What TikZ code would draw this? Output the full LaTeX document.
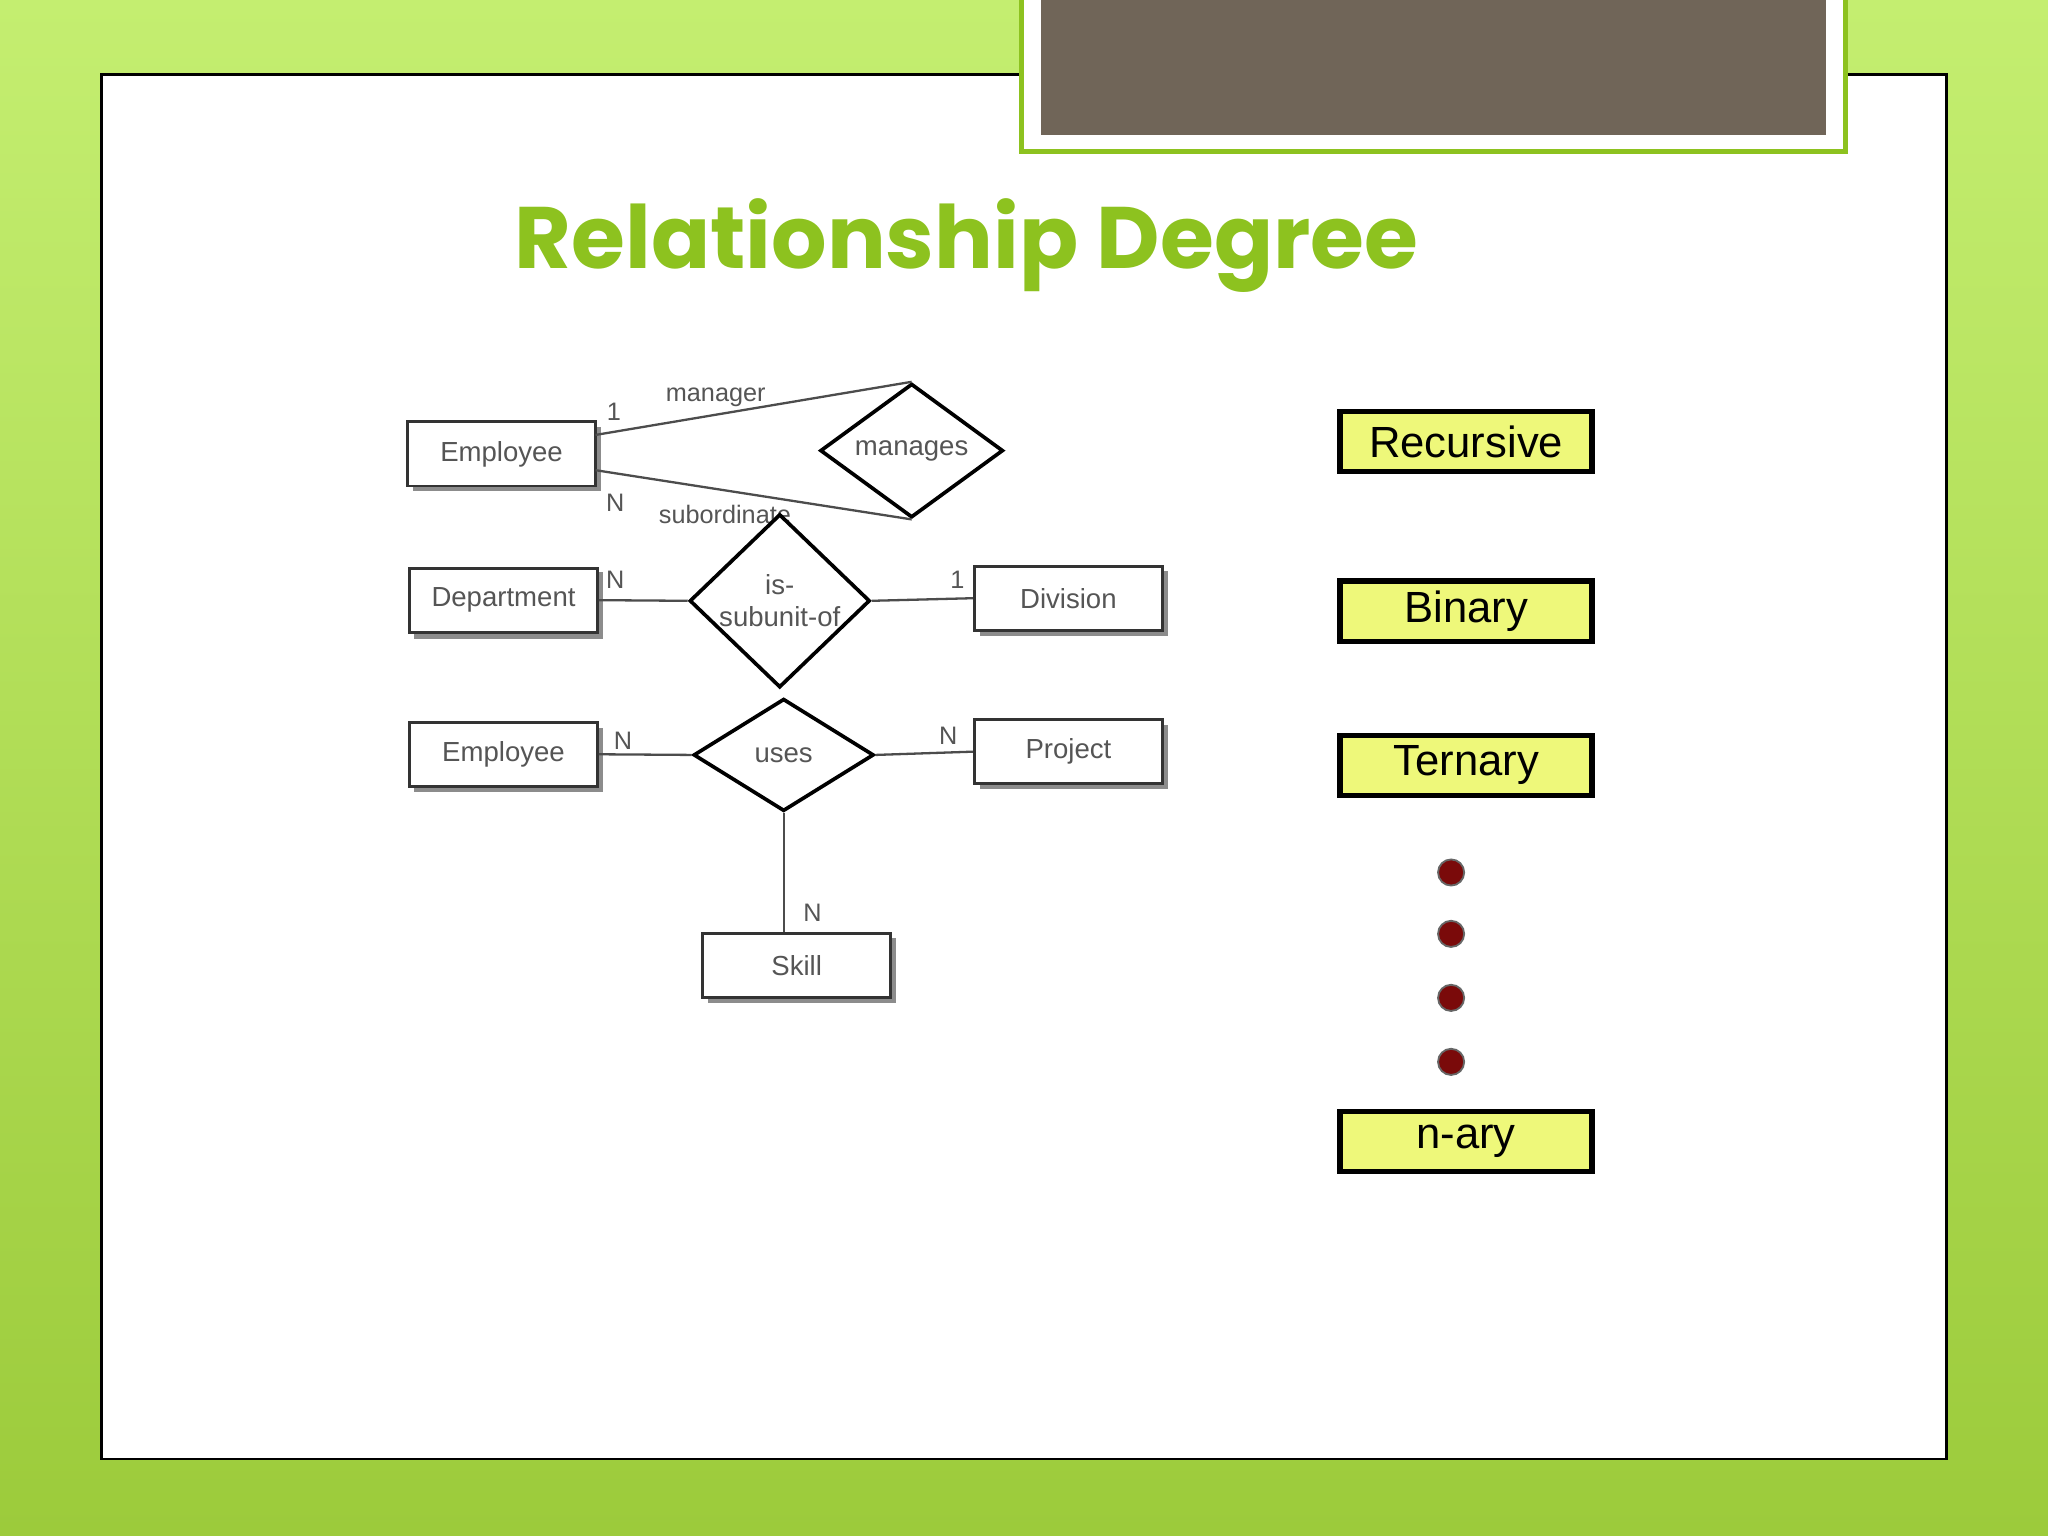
\documentclass[tikz,border=0pt]{standalone}
\usepackage{fontspec}
\setmainfont{Liberation Sans}
\newfontfamily\titlefont{Poppins}
\usetikzlibrary{shapes.geometric}
\definecolor{bggreen}{HTML}{9CCB3B}
\definecolor{bglight}{HTML}{C4EE70}
\definecolor{ttl}{HTML}{8DC21F}
\definecolor{brownbox}{HTML}{706558}
\definecolor{ybox}{HTML}{EEF87A}
\definecolor{dotred}{HTML}{7A0A0A}
\definecolor{txtgray}{HTML}{555555}
\tikzset{
 ent/.style={draw=black!80,fill=white,line width=0.6pt,minimum width=1.44cm,minimum height=0.49cm,inner sep=0pt,font=\fontsize{6}{7}\selectfont,text=txtgray},
 rel/.style={draw=black,fill=white,diamond,line width=0.8pt,inner sep=0pt,font=\fontsize{6}{7}\selectfont,text=txtgray,align=center},
 lbl/.style={font=\fontsize{5.5}{6}\selectfont,text=txtgray,inner sep=0pt},
 ln/.style={draw=black!70,line width=0.5pt},
 yb/.style={draw=black,fill=ybox,line width=1.2pt,minimum width=1.93cm,minimum height=0.46cm,inner sep=0pt,font=\fontsize{9.5}{11}\selectfont},
 rdot/.style={circle,fill=dotred,draw=black!60,inner sep=0pt,minimum size=0.2cm}
}
\begin{document}
\begin{tikzpicture}[x=0.01cm,y=-0.01cm]
\useasboundingbox (0,0) rectangle (1568,1176);
\shade[top color=bglight,bottom color=bggreen] (0,0) rectangle (1568,1176);
\draw[fill=white,line width=0.6pt] (78,57) rectangle (1490,1117);
\draw[fill=white,draw=ttl,line width=1pt] (782,-2) rectangle (1413,116);
\fill[brownbox] (797,-2) rectangle (1398,103);
\node[font=\titlefont\bfseries\fontsize{19}{22}\selectfont,text=ttl] (title) at (740,188) {Relationship Degree};
% shadows
\foreach \a/\b/\c/\d in {312/323/456/372,313/434/458/485,746/433/890/483,313/553/458/602,746/551/890/600,538/714/682/764}
  \fill[black!45] (\a+4,\b+4) rectangle (\c+4,\d+4);
\node[ent] (e1) at (384,347.5) {Employee};
\node[rel,minimum width=1.4cm,minimum height=0.8cm] (m) at (698,345) {manages};
\coordinate (e1a) at (456,333); \coordinate (e1b) at (456,360);
\draw[ln] (e1a) -- (m.north); \draw[ln] (e1b) -- (m.south);
\node[lbl] (l1) at (470,315) {1};
\node[lbl] (l2) at (548,304) {manager};
\node[lbl] (l3) at (471,385) {N};
\node[lbl] (l4) at (555,394) {subordinate};
\node[ent] (d) at (385.5,459.5) {Department};
\node[rel,minimum width=1.38cm,minimum height=0.84cm] (s) at (597,460) {is-\\subunit-of};
\node[ent] (dv) at (818,458) {Division};
\draw[ln] (d.east) -- (s.west); \draw[ln] (s.east) -- (dv.west);
\node[lbl] (l5) at (471,444) {N};
\node[lbl] (l6) at (733,444) {1};
\node[ent] (e2) at (385.5,577.5) {Employee};
\node[rel,minimum width=1.38cm,minimum height=0.86cm] (u) at (600,578) {uses};
\node[ent] (p) at (818,575.5) {Project};
\node[ent] (sk) at (610,739) {Skill};
\draw[ln] (e2.east) -- (u.west); \draw[ln] (u.east) -- (p.west);
\draw[ln] (u.south) -- (u.south |- sk.north);
\node[lbl] (l7) at (477,567) {N};
\node[lbl] (l8) at (726,563) {N};
\node[lbl] (l9) at (622,699) {N};
\node[yb] (r1) at (1122.5,338) {Recursive};
\node[yb] (r2) at (1122.5,468) {Binary};
\node[yb] (r3) at (1122.5,586) {Ternary};
\node[yb] (r4) at (1122.5,874) {n-ary};
\foreach \y [count=\i] in {668,715,764,813} \node[rdot] (dot\i) at (1111,\y) {};
\end{tikzpicture}
\end{document}
